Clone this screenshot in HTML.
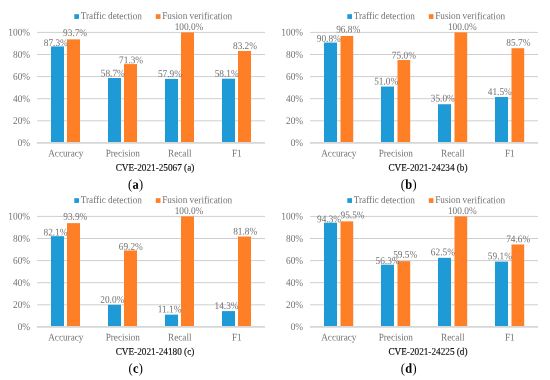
<!DOCTYPE html>
<html><head><meta charset="utf-8"><title>Figure</title>
<style>
html,body{margin:0;padding:0;background:#fff;}
svg{filter:blur(0.35px);}
svg text{font-family:"Liberation Serif","Times New Roman",serif;font-size:10.15px;}
svg text.t{fill:#737373;}
svg text.d{font-size:10.25px;}
svg text.ti{fill:#0a0a0a;stroke:#0a0a0a;stroke-width:0.15px;}
svg text.cp{fill:#000;font-size:13.6px;font-weight:bold;}
svg text.cp tspan.pn{font-weight:normal;}
svg text.cp{letter-spacing:0.35px;}
svg text.m{text-anchor:middle;}
svg text.e{text-anchor:end;}
</style></head><body>
<svg width="550" height="380" viewBox="0 0 604.396 380" preserveAspectRatio="none" style="display:block">
<rect width="604.40" height="380" fill="#fff"/>
<g><line x1="40.66" x2="291.21" y1="32.40" y2="32.40" stroke="#CDCDCD" stroke-width="1"/>
<text class="t d e" x="33.08" y="35.60" transform="rotate(0.05 33.08 35.60)">100%</text>
<line x1="40.66" x2="291.21" y1="54.50" y2="54.50" stroke="#CDCDCD" stroke-width="1"/>
<text class="t d e" x="33.08" y="57.70" transform="rotate(0.05 33.08 57.70)">80%</text>
<line x1="40.66" x2="291.21" y1="76.60" y2="76.60" stroke="#CDCDCD" stroke-width="1"/>
<text class="t d e" x="33.08" y="79.80" transform="rotate(0.05 33.08 79.80)">60%</text>
<line x1="40.66" x2="291.21" y1="98.70" y2="98.70" stroke="#CDCDCD" stroke-width="1"/>
<text class="t d e" x="33.08" y="101.90" transform="rotate(0.05 33.08 101.90)">40%</text>
<line x1="40.66" x2="291.21" y1="120.80" y2="120.80" stroke="#CDCDCD" stroke-width="1"/>
<text class="t d e" x="33.08" y="124.00" transform="rotate(0.05 33.08 124.00)">20%</text>
<text class="t d e" x="33.08" y="146.10" transform="rotate(0.05 33.08 146.10)">0%</text>
<rect x="56.04" y="46.43" width="14.29" height="96.47" fill="#1E9AD7"/>
<rect x="73.63" y="39.36" width="14.29" height="103.54" fill="#FF7F27"/>
<rect x="118.68" y="78.04" width="14.29" height="64.86" fill="#1E9AD7"/>
<rect x="136.26" y="64.11" width="14.29" height="78.79" fill="#FF7F27"/>
<rect x="181.32" y="78.92" width="14.29" height="63.98" fill="#1E9AD7"/>
<rect x="198.90" y="32.40" width="14.29" height="110.50" fill="#FF7F27"/>
<rect x="243.96" y="78.70" width="14.29" height="64.20" fill="#1E9AD7"/>
<rect x="261.54" y="50.96" width="14.29" height="91.94" fill="#FF7F27"/>
<line x1="40.66" x2="291.21" y1="142.90" y2="142.90" stroke="#D6D6D6" stroke-width="1.6"/>
<text class="t d m" x="61.32" y="46.07" transform="rotate(0.05 61.32 46.07)">87.3%</text>
<text class="t d m" x="82.53" y="36.13" transform="rotate(0.05 82.53 36.13)">93.7%</text>
<text class="t m" x="72.31" y="156.50" transform="rotate(0.05 72.31 156.50)">Accuracy</text>
<text class="t d m" x="123.96" y="76.43" transform="rotate(0.05 123.96 76.43)">58.7%</text>
<text class="t d m" x="144.07" y="63.27" transform="rotate(0.05 144.07 63.27)">71.3%</text>
<text class="t m" x="134.95" y="156.50" transform="rotate(0.05 134.95 156.50)">Precision</text>
<text class="t d m" x="186.81" y="76.91" transform="rotate(0.05 186.81 76.91)">57.9%</text>
<text class="t d m" x="207.69" y="30.00" transform="rotate(0.05 207.69 30.00)">100.0%</text>
<text class="t m" x="197.58" y="156.50" transform="rotate(0.05 197.58 156.50)">Recall</text>
<text class="t d m" x="249.12" y="76.69" transform="rotate(0.05 249.12 76.69)">58.1%</text>
<text class="t d m" x="269.23" y="48.98" transform="rotate(0.05 269.23 48.98)">83.2%</text>
<text class="t m" x="260.22" y="156.50" transform="rotate(0.05 260.22 156.50)">F1</text>
<rect x="81.65" y="14.20" width="5.16" height="4.7" fill="#1E9AD7"/>
<text class="t" x="88.68" y="19.10" transform="rotate(0.05 88.68 19.10)">Traffic detection</text>
<rect x="171.21" y="14.20" width="5.16" height="4.7" fill="#FF7F27"/>
<text class="t" x="178.24" y="19.10" transform="rotate(0.05 178.24 19.10)">Fusion verification</text>
<text class="ti m" x="170.33" y="170.80" transform="rotate(0.05 170.33 170.80)">CVE-2021-25067 (a)</text>
<text class="cp m" x="149.23" y="188.75" transform="rotate(0.05 149.23 188.75)"><tspan class="pn">(</tspan>a<tspan class="pn">)</tspan></text></g>
<g><line x1="340.66" x2="591.21" y1="32.40" y2="32.40" stroke="#CDCDCD" stroke-width="1"/>
<text class="t d e" x="333.08" y="35.60" transform="rotate(0.05 333.08 35.60)">100%</text>
<line x1="340.66" x2="591.21" y1="54.50" y2="54.50" stroke="#CDCDCD" stroke-width="1"/>
<text class="t d e" x="333.08" y="57.70" transform="rotate(0.05 333.08 57.70)">80%</text>
<line x1="340.66" x2="591.21" y1="76.60" y2="76.60" stroke="#CDCDCD" stroke-width="1"/>
<text class="t d e" x="333.08" y="79.80" transform="rotate(0.05 333.08 79.80)">60%</text>
<line x1="340.66" x2="591.21" y1="98.70" y2="98.70" stroke="#CDCDCD" stroke-width="1"/>
<text class="t d e" x="333.08" y="101.90" transform="rotate(0.05 333.08 101.90)">40%</text>
<line x1="340.66" x2="591.21" y1="120.80" y2="120.80" stroke="#CDCDCD" stroke-width="1"/>
<text class="t d e" x="333.08" y="124.00" transform="rotate(0.05 333.08 124.00)">20%</text>
<text class="t d e" x="333.08" y="146.10" transform="rotate(0.05 333.08 146.10)">0%</text>
<rect x="356.04" y="42.57" width="14.29" height="100.33" fill="#1E9AD7"/>
<rect x="374.18" y="35.94" width="13.96" height="106.96" fill="#FF7F27"/>
<rect x="418.68" y="86.55" width="14.29" height="56.35" fill="#1E9AD7"/>
<rect x="436.81" y="60.03" width="13.96" height="82.88" fill="#FF7F27"/>
<rect x="481.32" y="104.23" width="14.29" height="38.67" fill="#1E9AD7"/>
<rect x="499.45" y="32.40" width="13.96" height="110.50" fill="#FF7F27"/>
<rect x="543.96" y="97.04" width="14.29" height="45.86" fill="#1E9AD7"/>
<rect x="562.09" y="48.20" width="13.96" height="94.70" fill="#FF7F27"/>
<line x1="340.66" x2="591.21" y1="142.90" y2="142.90" stroke="#D6D6D6" stroke-width="1.6"/>
<text class="t d m" x="361.32" y="41.72" transform="rotate(0.05 361.32 41.72)">90.8%</text>
<text class="t d m" x="382.64" y="32.52" transform="rotate(0.05 382.64 32.52)">96.8%</text>
<text class="t m" x="372.31" y="156.50" transform="rotate(0.05 372.31 156.50)">Accuracy</text>
<text class="t d m" x="424.40" y="84.50" transform="rotate(0.05 424.40 84.50)">51.0%</text>
<text class="t d m" x="443.85" y="58.60" transform="rotate(0.05 443.85 58.60)">75.0%</text>
<text class="t m" x="434.95" y="156.50" transform="rotate(0.05 434.95 156.50)">Precision</text>
<text class="t d m" x="486.59" y="101.50" transform="rotate(0.05 486.59 101.50)">35.0%</text>
<text class="t d m" x="508.02" y="30.00" transform="rotate(0.05 508.02 30.00)">100.0%</text>
<text class="t m" x="497.58" y="156.50" transform="rotate(0.05 497.58 156.50)">Recall</text>
<text class="t d m" x="549.23" y="94.95" transform="rotate(0.05 549.23 94.95)">41.5%</text>
<text class="t d m" x="569.67" y="45.73" transform="rotate(0.05 569.67 45.73)">85.7%</text>
<text class="t m" x="560.22" y="156.50" transform="rotate(0.05 560.22 156.50)">F1</text>
<rect x="381.65" y="14.20" width="5.16" height="4.7" fill="#1E9AD7"/>
<text class="t" x="388.68" y="19.10" transform="rotate(0.05 388.68 19.10)">Traffic detection</text>
<rect x="471.21" y="14.20" width="5.16" height="4.7" fill="#FF7F27"/>
<text class="t" x="478.24" y="19.10" transform="rotate(0.05 478.24 19.10)">Fusion verification</text>
<text class="ti m" x="470.33" y="170.80" transform="rotate(0.05 470.33 170.80)">CVE-2021-24234 (b)</text>
<text class="cp m" x="449.23" y="188.75" transform="rotate(0.05 449.23 188.75)"><tspan class="pn">(</tspan>b<tspan class="pn">)</tspan></text></g>
<g><line x1="40.66" x2="291.21" y1="216.40" y2="216.40" stroke="#CDCDCD" stroke-width="1"/>
<text class="t d e" x="33.08" y="219.60" transform="rotate(0.05 33.08 219.60)">100%</text>
<line x1="40.66" x2="291.21" y1="238.50" y2="238.50" stroke="#CDCDCD" stroke-width="1"/>
<text class="t d e" x="33.08" y="241.70" transform="rotate(0.05 33.08 241.70)">80%</text>
<line x1="40.66" x2="291.21" y1="260.60" y2="260.60" stroke="#CDCDCD" stroke-width="1"/>
<text class="t d e" x="33.08" y="263.80" transform="rotate(0.05 33.08 263.80)">60%</text>
<line x1="40.66" x2="291.21" y1="282.70" y2="282.70" stroke="#CDCDCD" stroke-width="1"/>
<text class="t d e" x="33.08" y="285.90" transform="rotate(0.05 33.08 285.90)">40%</text>
<line x1="40.66" x2="291.21" y1="304.80" y2="304.80" stroke="#CDCDCD" stroke-width="1"/>
<text class="t d e" x="33.08" y="308.00" transform="rotate(0.05 33.08 308.00)">20%</text>
<text class="t d e" x="33.08" y="330.10" transform="rotate(0.05 33.08 330.10)">0%</text>
<rect x="56.04" y="236.18" width="14.29" height="90.72" fill="#1E9AD7"/>
<rect x="73.63" y="223.14" width="14.29" height="103.76" fill="#FF7F27"/>
<rect x="118.68" y="304.80" width="14.29" height="22.10" fill="#1E9AD7"/>
<rect x="136.26" y="250.43" width="14.29" height="76.47" fill="#FF7F27"/>
<rect x="181.32" y="314.63" width="14.29" height="12.27" fill="#1E9AD7"/>
<rect x="198.90" y="216.40" width="14.29" height="110.50" fill="#FF7F27"/>
<rect x="243.96" y="311.10" width="14.29" height="15.80" fill="#1E9AD7"/>
<rect x="261.54" y="236.51" width="14.29" height="90.39" fill="#FF7F27"/>
<line x1="40.66" x2="291.21" y1="326.90" y2="326.90" stroke="#D6D6D6" stroke-width="1.6"/>
<text class="t d m" x="60.99" y="235.59" transform="rotate(0.05 60.99 235.59)">82.1%</text>
<text class="t d m" x="82.75" y="219.81" transform="rotate(0.05 82.75 219.81)">93.9%</text>
<text class="t m" x="72.31" y="340.50" transform="rotate(0.05 72.31 340.50)">Accuracy</text>
<text class="t d m" x="123.41" y="302.80" transform="rotate(0.05 123.41 302.80)">20.0%</text>
<text class="t d m" x="143.74" y="249.68" transform="rotate(0.05 143.74 249.68)">69.2%</text>
<text class="t m" x="134.95" y="340.50" transform="rotate(0.05 134.95 340.50)">Precision</text>
<text class="t d m" x="186.37" y="312.39" transform="rotate(0.05 186.37 312.39)">11.1%</text>
<text class="t d m" x="207.69" y="214.00" transform="rotate(0.05 207.69 214.00)">100.0%</text>
<text class="t m" x="197.58" y="340.50" transform="rotate(0.05 197.58 340.50)">Recall</text>
<text class="t d m" x="249.01" y="308.97" transform="rotate(0.05 249.01 308.97)">14.3%</text>
<text class="t d m" x="269.45" y="234.42" transform="rotate(0.05 269.45 234.42)">81.8%</text>
<text class="t m" x="260.22" y="340.50" transform="rotate(0.05 260.22 340.50)">F1</text>
<rect x="81.65" y="198.20" width="5.16" height="4.7" fill="#1E9AD7"/>
<text class="t" x="88.68" y="203.10" transform="rotate(0.05 88.68 203.10)">Traffic detection</text>
<rect x="171.21" y="198.20" width="5.16" height="4.7" fill="#FF7F27"/>
<text class="t" x="178.24" y="203.10" transform="rotate(0.05 178.24 203.10)">Fusion verification</text>
<text class="ti m" x="170.33" y="354.80" transform="rotate(0.05 170.33 354.80)">CVE-2021-24180 (c)</text>
<text class="cp m" x="149.23" y="372.75" transform="rotate(0.05 149.23 372.75)"><tspan class="pn">(</tspan>c<tspan class="pn">)</tspan></text></g>
<g><line x1="340.66" x2="591.21" y1="216.40" y2="216.40" stroke="#CDCDCD" stroke-width="1"/>
<text class="t d e" x="333.08" y="219.60" transform="rotate(0.05 333.08 219.60)">100%</text>
<line x1="340.66" x2="591.21" y1="238.50" y2="238.50" stroke="#CDCDCD" stroke-width="1"/>
<text class="t d e" x="333.08" y="241.70" transform="rotate(0.05 333.08 241.70)">80%</text>
<line x1="340.66" x2="591.21" y1="260.60" y2="260.60" stroke="#CDCDCD" stroke-width="1"/>
<text class="t d e" x="333.08" y="263.80" transform="rotate(0.05 333.08 263.80)">60%</text>
<line x1="340.66" x2="591.21" y1="282.70" y2="282.70" stroke="#CDCDCD" stroke-width="1"/>
<text class="t d e" x="333.08" y="285.90" transform="rotate(0.05 333.08 285.90)">40%</text>
<line x1="340.66" x2="591.21" y1="304.80" y2="304.80" stroke="#CDCDCD" stroke-width="1"/>
<text class="t d e" x="333.08" y="308.00" transform="rotate(0.05 333.08 308.00)">20%</text>
<text class="t d e" x="333.08" y="330.10" transform="rotate(0.05 333.08 330.10)">0%</text>
<rect x="356.04" y="222.70" width="14.29" height="104.20" fill="#1E9AD7"/>
<rect x="374.18" y="221.37" width="13.96" height="105.53" fill="#FF7F27"/>
<rect x="418.68" y="264.69" width="14.29" height="62.21" fill="#1E9AD7"/>
<rect x="436.81" y="261.15" width="13.96" height="65.75" fill="#FF7F27"/>
<rect x="481.32" y="257.84" width="14.29" height="69.06" fill="#1E9AD7"/>
<rect x="499.45" y="216.40" width="13.96" height="110.50" fill="#FF7F27"/>
<rect x="543.96" y="261.59" width="14.29" height="65.31" fill="#1E9AD7"/>
<rect x="562.09" y="244.47" width="13.96" height="82.43" fill="#FF7F27"/>
<line x1="340.66" x2="591.21" y1="326.90" y2="326.90" stroke="#D6D6D6" stroke-width="1.6"/>
<text class="t d m" x="361.65" y="222.37" transform="rotate(0.05 361.65 222.37)">94.3%</text>
<text class="t d m" x="387.47" y="218.25" transform="rotate(0.05 387.47 218.25)">95.5%</text>
<text class="t m" x="372.31" y="340.50" transform="rotate(0.05 372.31 340.50)">Accuracy</text>
<text class="t d m" x="425.88" y="263.97" transform="rotate(0.05 425.88 263.97)">56.3%</text>
<text class="t d m" x="445.27" y="257.75" transform="rotate(0.05 445.27 257.75)">59.5%</text>
<text class="t m" x="434.95" y="340.50" transform="rotate(0.05 434.95 340.50)">Precision</text>
<text class="t d m" x="486.70" y="255.35" transform="rotate(0.05 486.70 255.35)">62.5%</text>
<text class="t d m" x="508.02" y="214.10" transform="rotate(0.05 508.02 214.10)">100.0%</text>
<text class="t m" x="497.58" y="340.50" transform="rotate(0.05 497.58 340.50)">Recall</text>
<text class="t d m" x="549.34" y="259.29" transform="rotate(0.05 549.34 259.29)">59.1%</text>
<text class="t d m" x="569.45" y="242.24" transform="rotate(0.05 569.45 242.24)">74.6%</text>
<text class="t m" x="560.22" y="340.50" transform="rotate(0.05 560.22 340.50)">F1</text>
<rect x="381.65" y="198.20" width="5.16" height="4.7" fill="#1E9AD7"/>
<text class="t" x="388.68" y="203.10" transform="rotate(0.05 388.68 203.10)">Traffic detection</text>
<rect x="471.21" y="198.20" width="5.16" height="4.7" fill="#FF7F27"/>
<text class="t" x="478.24" y="203.10" transform="rotate(0.05 478.24 203.10)">Fusion verification</text>
<text class="ti m" x="470.33" y="354.80" transform="rotate(0.05 470.33 354.80)">CVE-2021-24225 (d)</text>
<text class="cp m" x="449.23" y="372.75" transform="rotate(0.05 449.23 372.75)"><tspan class="pn">(</tspan>d<tspan class="pn">)</tspan></text></g>
</svg>
</body></html>
